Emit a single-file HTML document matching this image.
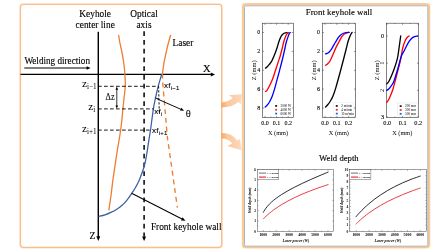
<!DOCTYPE html>
<html><head><meta charset="utf-8"><title>Keyhole model</title>
<style>
html,body{margin:0;padding:0;background:#fff;}
body{width:448px;height:252px;overflow:hidden;}
svg{display:block;}
text{font-family:"Liberation Serif","DejaVu Serif",serif;fill:#000;}
.ss{font-family:"Liberation Sans","DejaVu Sans",sans-serif;}
</style></head>
<body>
<svg width="448" height="252" viewBox="0 0 448 252">
<defs>
<filter id="glow" x="-5%" y="-5%" width="110%" height="110%"><feGaussianBlur stdDeviation="0.7"/></filter>
<linearGradient id="ag1" x1="0" y1="0" x2="1" y2="0"><stop offset="0" stop-color="#f8a766"/><stop offset="0.3" stop-color="#fbc79d"/><stop offset="1" stop-color="#fcd9bd"/></linearGradient>
</defs>
<rect width="448" height="252" fill="#fff"/>

<!-- LEFT PANEL -->
<rect x="20.5" y="4.5" width="201.1" height="242.9" rx="2.9" ry="2.9" fill="none" stroke="#fcdcc0" stroke-width="2.3" filter="url(#glow)"/>
<rect x="20.5" y="4.5" width="201.1" height="242.9" rx="2.9" ry="2.9" fill="#fff" stroke="#fbbd89" stroke-width="1.15"/>

<!-- RIGHT PANEL -->
<rect x="243" y="4.3" width="186.1" height="243.1" rx="2.6" ry="2.6" fill="none" stroke="#fdd3a4" stroke-width="2.4" filter="url(#glow)"/>
<rect x="243" y="4.3" width="186.1" height="243.1" rx="2.6" ry="2.6" fill="none" stroke="#fcc88f" stroke-width="1.4"/>
<rect x="244.5" y="5.8" width="183.3" height="240.4" rx="1.5" ry="1.5" fill="#fff" stroke="#9dabc0" stroke-width="0.9"/>

<!-- big arrows -->
<path d="M221.3,102.5 C225.5,102.5 229.8,100.8 232.9,98.1 L229,95.2 L242,94.2 L240.9,104.1 L238,102 C235,105.2 229,107.5 221.3,107.4 Z" fill="url(#ag1)"/>
<path d="M221.3,133.1 C229,133 234,136 237.2,140.6 L240,138.9 L241.6,150.3 L227.3,145.9 L232.2,143.4 C230,140 226,138.4 221.3,138.4 Z" fill="url(#ag1)"/>

<!-- LEFT DIAGRAM -->
<g id="diagram" fill="none" stroke-linecap="butt">
<!-- axes -->
<line x1="20.5" y1="74.4" x2="212" y2="74.4" stroke="#000" stroke-width="1.4"/>
<path d="M215.1,74.4 L210.8,72.4 L210.8,76.4 Z" fill="#000" stroke="none"/>
<line x1="98.3" y1="31.8" x2="98.3" y2="237.5" stroke="#000" stroke-width="1.45"/>
<path d="M98.3,241 L96.3,236.3 L100.3,236.3 Z" fill="#000" stroke="none"/>
<!-- optical axis -->
<line x1="144.1" y1="31.2" x2="144.1" y2="236.8" stroke="#000" stroke-width="1.5" stroke-dasharray="4.9 3.85"/>
<path d="M144.1,241 L142.1,236.6 L146.1,236.6 Z" fill="#000" stroke="none"/>
<!-- welding direction arrow -->
<line x1="24.3" y1="68" x2="88" y2="68" stroke="#000" stroke-width="1"/>
<path d="M90.6,68 L86.6,66.3 L86.6,69.7 Z" fill="#000" stroke="none"/>
<!-- laser left branch -->
<path d="M118.6,35 C118.85,36.5 119.55,41.17 120.1,44 C120.65,46.83 121.37,49.33 121.9,52 C122.43,54.67 122.9,57.42 123.3,60 C123.7,62.58 124.03,65.12 124.3,67.5 C124.57,69.88 124.73,71.55 124.9,74.3 C125.07,77.05 125.3,81.22 125.3,84 C125.3,86.78 125.1,88.75 124.9,91 C124.7,93.25 124.47,94.17 124.1,97.5 C123.73,100.83 123.18,106.25 122.7,111 C122.22,115.75 121.8,121.17 121.2,126 C120.6,130.83 119.82,135.5 119.1,140 C118.38,144.5 117.93,146.33 116.9,153 C115.87,159.67 113.85,173.17 112.9,180 C111.95,186.83 111.88,188.92 111.2,194 C110.52,199.08 109.2,207.75 108.8,210.5" stroke="#ed7d31" stroke-width="1.3"/>
<!-- laser right branch -->
<path d="M170.7,34.8 C170.25,36.42 168.85,41.17 168,44.5 C167.15,47.83 166.3,51.55 165.6,54.8 C164.9,58.05 164.3,61.03 163.8,64 C163.3,66.97 162.83,70.83 162.6,72.6 C162.37,74.37 162.43,74.27 162.4,74.6" stroke="#ed7d31" stroke-width="1.3"/>
<path d="M162.45,73.8 C162.47,74.67 162.51,76.97 162.6,79 C162.69,81.03 162.72,82.33 163,86 C163.28,89.67 163.92,96.5 164.3,101 C164.68,105.5 164.98,109.17 165.3,113 C165.62,116.83 165.88,119.83 166.25,124 C166.62,128.17 167.12,134.5 167.5,138 C167.88,141.5 167.92,140.92 168.5,145 C169.08,149.08 170.17,156.67 171,162.5 C171.83,168.33 172.77,174.83 173.5,180 C174.23,185.17 174.75,188.9 175.4,193.5 C176.05,198.1 177.07,205.25 177.4,207.6" stroke="#ed7d31" stroke-width="1.35" stroke-dasharray="4.9 3.95"/>
<!-- blue keyhole wall -->
<path d="M161.7,74.3 C161.5,74.97 161.08,76.28 160.5,78.3 C159.92,80.32 159.03,83.12 158.2,86.4 C157.37,89.68 156.3,94.25 155.5,98 C154.7,101.75 154.23,103.57 153.4,108.9 C152.57,114.23 151.25,124.82 150.5,130 C149.75,135.18 149.55,135.83 148.9,140 C148.25,144.17 147.4,150.53 146.6,155 C145.8,159.47 145.32,162.63 144.1,166.8 C142.88,170.97 140.68,176.63 139.3,180 C137.92,183.37 137.06,184.78 135.8,187 C134.54,189.22 133.25,191.08 131.75,193.3 C130.25,195.52 128.41,198.3 126.8,200.3 C125.19,202.3 123.77,203.82 122.1,205.3 C120.43,206.78 118.58,208.07 116.8,209.2 C115.02,210.33 113.37,211.17 111.4,212.1 C109.43,213.03 107.15,214.07 105,214.8 C102.85,215.53 99.58,216.22 98.5,216.5" stroke="#3a5fa5" stroke-width="1.25"/>
<!-- dashed horizontals -->
<line x1="98.5" y1="86.3" x2="158.3" y2="86.3" stroke="#000" stroke-width="0.9" stroke-dasharray="3.7 2.3" stroke-dashoffset="0.5"/>
<line x1="98.5" y1="108.9" x2="153.6" y2="108.9" stroke="#000" stroke-width="0.9" stroke-dasharray="3.7 2.3" stroke-dashoffset="0.5"/>
<line x1="98.5" y1="130.1" x2="150.4" y2="130.1" stroke="#000" stroke-width="0.9" stroke-dasharray="3.7 2.3" stroke-dashoffset="0.5"/>
<!-- delta z double arrow -->
<line x1="116.8" y1="88.5" x2="116.8" y2="106.5" stroke="#000" stroke-width="0.8"/>
<path d="M116.8,86.6 L115.5,89.8 L118.1,89.8 Z M116.8,108.6 L115.5,105.4 L118.1,105.4 Z" fill="#000" stroke="none"/>
<!-- small dashed vertical for theta -->
<line x1="158.6" y1="86.3" x2="159.3" y2="113" stroke="#000" stroke-width="0.95" stroke-dasharray="2.2 1.8"/>
<path d="M155.2,97.4 C156,98.6 157.6,99 158.9,98.2" stroke="#000" stroke-width="0.7"/>
<!-- theta arrow -->
<line x1="156.6" y1="98.6" x2="181.3" y2="109.5" stroke="#000" stroke-width="0.95"/>
<path d="M184.1,110.7 L180.1,110.6 L181.4,107.7 Z" fill="#000" stroke="none"/>
<!-- front keyhole wall arrow -->
<line x1="131.6" y1="193.2" x2="182.5" y2="219.3" stroke="#000" stroke-width="1.05"/>
<path d="M185.4,220.8 L181,220.4 L182.6,217.3 Z" fill="#000" stroke="none"/>
</g>

<g font-size="9.35" stroke="#000" stroke-width="0.12">
<text x="95.2" y="17.3" text-anchor="middle">Keyhole</text>
<text x="95.2" y="28.2" text-anchor="middle">center line</text>
<text x="144" y="17.3" text-anchor="middle">Optical</text>
<text x="144" y="28.2" text-anchor="middle">axis</text>
<text x="172.6" y="45.6">Laser</text>
<text x="24.4" y="63.7" textLength="65.6" lengthAdjust="spacingAndGlyphs">Welding direction</text>
<text x="202.9" y="72" font-size="10.4">X</text>
<text x="89.6" y="238.6" font-size="9.8">Z</text>
<text x="150.9" y="230.1">Front keyhole wall</text>
</g>
<g font-size="11.3">
<text x="82" y="86.8">z<tspan font-size="7.2" dy="1.9">i−1</tspan></text>
<text x="88.3" y="110.3">z<tspan font-size="7.2" dy="1.9">i</tspan></text>
<text x="82" y="132">z<tspan font-size="7.2" dy="1.9">i+1</tspan></text>
<text x="105.6" y="99.6" font-size="10.4" fill="#111" stroke="#111" stroke-width="0.1" textLength="9" lengthAdjust="spacingAndGlyphs">Δz</text>
</g>
<g class="ss" font-size="8.1" stroke="#000" stroke-width="0.1" letter-spacing="0.2">
<text class="ss" x="164" y="88">xf<tspan font-size="6" dy="1.6">i−1</tspan></text>
<text class="ss" x="154.3" y="114.3">xf<tspan font-size="6" dy="1.6">i</tspan></text>
<text class="ss" x="152" y="133.1">xf<tspan font-size="6" dy="1.6">i+1</tspan></text>
<text class="ss" x="185.7" y="116.6" font-size="9">θ</text>
</g>

<!-- RIGHT PANEL CONTENT -->
<text x="339" y="14.6" font-size="8.8" text-anchor="middle" stroke="#000" stroke-width="0.12">Front keyhole wall</text>
<text x="338.9" y="161.3" font-size="8.7" text-anchor="middle" stroke="#000" stroke-width="0.12">Weld depth</text>
<g id="plots">
<rect x="262.5" y="23.2" width="30.8" height="94.3" fill="#fff" stroke="#333" stroke-width="0.6"/>
<path d="M265,117.5 v-1.6 M265,23.2 v1.6 M270.8,117.5 v-0.9 M270.8,23.2 v0.9 M276.6,117.5 v-1.6 M276.6,23.2 v1.6 M282.4,117.5 v-0.9 M282.4,23.2 v0.9 M288.2,117.5 v-1.6 M288.2,23.2 v1.6 M262.5,32.5 h1.6 M293.3,32.5 h-1.6 M262.5,51.38 h1.6 M293.3,51.38 h-1.6 M262.5,70.26 h1.6 M293.3,70.26 h-1.6 M262.5,89.14 h1.6 M293.3,89.14 h-1.6 M262.5,108.02 h1.6 M293.3,108.02 h-1.6" stroke="#333" stroke-width="0.5" fill="none"/>
<text x="258.8" y="34.45" font-size="6.0" text-anchor="middle" stroke="#000" stroke-width="0.1">0</text>
<text x="258.8" y="53.33" font-size="6.0" text-anchor="middle" stroke="#000" stroke-width="0.1">2</text>
<text x="258.8" y="72.21" font-size="6.0" text-anchor="middle" stroke="#000" stroke-width="0.1">4</text>
<text x="258.8" y="91.09" font-size="6.0" text-anchor="middle" stroke="#000" stroke-width="0.1">6</text>
<text x="258.8" y="109.97" font-size="6.0" text-anchor="middle" stroke="#000" stroke-width="0.1">8</text>
<text x="265" y="124.6" font-size="6.0" text-anchor="middle" stroke="#000" stroke-width="0.1">0.0</text>
<text x="276.6" y="124.6" font-size="6.0" text-anchor="middle" stroke="#000" stroke-width="0.1">0.1</text>
<text x="288.2" y="124.6" font-size="6.0" text-anchor="middle" stroke="#000" stroke-width="0.1">0.2</text>
<text transform="translate(256,70.3) rotate(-90)" font-size="6.4" text-anchor="middle">Z (mm)</text>
<text x="278" y="134.5" font-size="6.3" text-anchor="middle">X (mm)</text>
<path d="M265.5,68.1 C265.8,67.88 266.63,67.45 267.3,66.8 C267.97,66.15 268.75,65.17 269.5,64.2 C270.25,63.23 271.05,62.37 271.8,61 C272.55,59.63 273.35,57.55 274,56 C274.65,54.45 275.2,53.03 275.7,51.7 C276.2,50.37 276.42,49.83 277,48 C277.58,46.17 278.47,42.73 279.2,40.7 C279.93,38.67 280.68,36.98 281.4,35.8 C282.12,34.62 282.85,34.1 283.5,33.6 C284.15,33.1 284.68,32.97 285.3,32.8 C285.92,32.63 286.88,32.63 287.2,32.6" fill="none" stroke="#000" stroke-width="1.32" stroke-linecap="round"/>
<path d="M265.5,91.4 C265.75,91.22 266.33,91.23 267,90.3 C267.67,89.37 268.58,87.65 269.5,85.8 C270.42,83.95 271.5,81.78 272.5,79.2 C273.5,76.62 274.52,73.27 275.5,70.3 C276.48,67.33 277.62,63.78 278.4,61.4 C279.18,59.02 279.55,58.23 280.2,56 C280.85,53.77 281.72,50.33 282.3,48 C282.88,45.67 283.1,44.03 283.7,42 C284.3,39.97 285.3,37.22 285.9,35.8 C286.5,34.38 286.78,34.03 287.3,33.5 C287.82,32.97 288.72,32.75 289,32.6" fill="none" stroke="#f00" stroke-width="1.32" stroke-linecap="round"/>
<path d="M265.2,107 C265.5,106.73 266.28,106.23 267,105.4 C267.72,104.57 268.62,103.57 269.5,102 C270.38,100.43 271.42,98.32 272.3,96 C273.18,93.68 273.98,90.9 274.8,88.1 C275.62,85.3 276.4,82.17 277.2,79.2 C278,76.23 278.72,73.67 279.6,70.3 C280.48,66.93 281.6,62.72 282.5,59 C283.4,55.28 284.37,50.83 285,48 C285.63,45.17 285.73,44.03 286.3,42 C286.87,39.97 287.88,37.23 288.4,35.8 C288.92,34.37 289.08,33.93 289.4,33.4 C289.72,32.87 290.15,32.73 290.3,32.6" fill="none" stroke="#00f" stroke-width="1.32" stroke-linecap="round"/>
<rect x="273" y="102.8" width="19" height="13.2" fill="#fff" stroke="#fff" stroke-width="0.3"/>
<rect x="275.2" y="105.05" width="1.9" height="1.7" fill="#111"/>
<text x="280.6" y="107" font-size="3.3" fill="#555">2000 W</text>
<rect x="275.2" y="108.9" width="1.9" height="1.7" fill="#e22"/>
<text x="280.6" y="110.85" font-size="3.3" fill="#555">4000 W</text>
<rect x="275.2" y="112.75" width="1.9" height="1.7" fill="#15e"/>
<text x="280.6" y="114.7" font-size="3.3" fill="#555">6000 W</text>
<rect x="322.3" y="23.2" width="33.3" height="94.3" fill="#fff" stroke="#333" stroke-width="0.6"/>
<path d="M325,117.5 v-1.6 M325,23.2 v1.6 M330.9,117.5 v-0.9 M330.9,23.2 v0.9 M336.8,117.5 v-1.6 M336.8,23.2 v1.6 M342.7,117.5 v-0.9 M342.7,23.2 v0.9 M348.6,117.5 v-1.6 M348.6,23.2 v1.6 M354.5,117.5 v-0.9 M354.5,23.2 v0.9 M322.3,32.5 h1.6 M355.6,32.5 h-1.6 M322.3,51.38 h1.6 M355.6,51.38 h-1.6 M322.3,70.26 h1.6 M355.6,70.26 h-1.6 M322.3,89.14 h1.6 M355.6,89.14 h-1.6 M322.3,108.02 h1.6 M355.6,108.02 h-1.6" stroke="#333" stroke-width="0.5" fill="none"/>
<text x="318.6" y="34.45" font-size="6.0" text-anchor="middle" stroke="#000" stroke-width="0.1">0</text>
<text x="318.6" y="53.33" font-size="6.0" text-anchor="middle" stroke="#000" stroke-width="0.1">2</text>
<text x="318.6" y="72.21" font-size="6.0" text-anchor="middle" stroke="#000" stroke-width="0.1">4</text>
<text x="318.6" y="91.09" font-size="6.0" text-anchor="middle" stroke="#000" stroke-width="0.1">6</text>
<text x="318.6" y="109.97" font-size="6.0" text-anchor="middle" stroke="#000" stroke-width="0.1">8</text>
<text x="325" y="124.6" font-size="6.0" text-anchor="middle" stroke="#000" stroke-width="0.1">0.0</text>
<text x="336.8" y="124.6" font-size="6.0" text-anchor="middle" stroke="#000" stroke-width="0.1">0.1</text>
<text x="348.6" y="124.6" font-size="6.0" text-anchor="middle" stroke="#000" stroke-width="0.1">0.2</text>
<text transform="translate(316,70.3) rotate(-90)" font-size="6.4" text-anchor="middle">Z (mm)</text>
<text x="338.9" y="134.5" font-size="6.3" text-anchor="middle">X (mm)</text>
<path d="M325.5,107 C325.83,106.67 326.68,106 327.5,105 C328.32,104 329.48,102.5 330.4,101 C331.32,99.5 332.12,98.15 333,96 C333.88,93.85 334.5,92.1 335.7,88.1 C336.9,84.1 338.86,76.93 340.2,72 C341.54,67.07 342.73,62.42 343.75,58.5 C344.77,54.58 345.56,51.42 346.3,48.5 C347.04,45.58 347.53,43.17 348.2,41 C348.87,38.83 349.65,36.93 350.3,35.5 C350.95,34.07 351.8,32.92 352.1,32.4" fill="none" stroke="#000" stroke-width="1.32" stroke-linecap="round"/>
<path d="M325.5,65.3 C325.83,65.08 326.75,64.72 327.5,64 C328.25,63.28 329.12,62.5 330,61 C330.88,59.5 331.85,57.15 332.8,55 C333.75,52.85 334.73,50.18 335.7,48.1 C336.67,46.02 337.65,44.28 338.6,42.5 C339.55,40.72 340.57,38.72 341.4,37.4 C342.23,36.08 342.92,35.28 343.6,34.6 C344.28,33.92 344.88,33.62 345.5,33.3 C346.12,32.98 346.7,32.85 347.3,32.7 C347.9,32.55 348.8,32.45 349.1,32.4" fill="none" stroke="#f00" stroke-width="1.32" stroke-linecap="round"/>
<path d="M325.5,53.9 C325.92,53.75 327.22,53.52 328,53 C328.78,52.48 329.52,51.62 330.2,50.8 C330.88,49.98 331.25,49.48 332.1,48.1 C332.95,46.72 334.25,44.28 335.3,42.5 C336.35,40.72 337.5,38.67 338.4,37.4 C339.3,36.13 339.95,35.55 340.7,34.9 C341.45,34.25 342.02,33.88 342.9,33.5 C343.78,33.12 344.97,32.78 346,32.6 C347.03,32.42 348.58,32.43 349.1,32.4" fill="none" stroke="#00f" stroke-width="1.32" stroke-linecap="round"/>
<rect x="333.6" y="102.8" width="20" height="13.2" fill="#fff" stroke="#ddd" stroke-width="0.3"/>
<rect x="335.8" y="105.05" width="1.9" height="1.7" fill="#111"/>
<text x="341.2" y="107" font-size="3.3" fill="#555">2 m/min</text>
<rect x="335.8" y="108.9" width="1.9" height="1.7" fill="#e22"/>
<text x="341.2" y="110.85" font-size="3.3" fill="#555">4 m/min</text>
<rect x="335.8" y="112.75" width="1.9" height="1.7" fill="#15e"/>
<text x="341.2" y="114.7" font-size="3.3" fill="#555">10 m/min</text>
<rect x="386.4" y="23.2" width="32.2" height="94.3" fill="#fff" stroke="#333" stroke-width="0.6"/>
<path d="M387,117.5 v-1.6 M387,23.2 v1.6 M394.75,117.5 v-0.9 M394.75,23.2 v0.9 M402.5,117.5 v-1.6 M402.5,23.2 v1.6 M410.25,117.5 v-0.9 M410.25,23.2 v0.9 M418,117.5 v-1.6 M418,23.2 v1.6 M386.4,36 h1.6 M418.6,36 h-1.6 M386.4,63.17 h1.6 M418.6,63.17 h-1.6 M386.4,90.34 h1.6 M418.6,90.34 h-1.6" stroke="#333" stroke-width="0.5" fill="none"/>
<text x="382.7" y="37.95" font-size="6.3" text-anchor="middle" stroke="#000" stroke-width="0.1">0</text>
<text transform="translate(384.1,63.17) rotate(-90)" font-size="6.3" text-anchor="middle">1</text>
<text transform="translate(384.1,90.34) rotate(-90)" font-size="6.3" text-anchor="middle">2</text>
<text x="382.7" y="119.46" font-size="6.3" text-anchor="middle" stroke="#000" stroke-width="0.1">3</text>
<text x="387.2" y="124.6" font-size="6.3" text-anchor="middle" stroke="#000" stroke-width="0.1">0.0</text>
<text x="402.7" y="124.6" font-size="6.3" text-anchor="middle" stroke="#000" stroke-width="0.1">0.1</text>
<text x="418.2" y="124.6" font-size="6.3" text-anchor="middle" stroke="#000" stroke-width="0.1">0.2</text>
<text transform="translate(379.2,70.3) rotate(-90)" font-size="6.4" text-anchor="middle">Z (mm)</text>
<text x="402.3" y="134.5" font-size="6.3" text-anchor="middle">X (mm)</text>
<path d="M386.8,83.7 C387.08,83.42 387.88,82.95 388.5,82 C389.12,81.05 389.75,79.67 390.5,78 C391.25,76.33 392.25,73.92 393,72 C393.75,70.08 394.4,68.27 395,66.5 C395.6,64.73 396.12,63.15 396.6,61.4 C397.08,59.65 397.45,58.57 397.9,56 C398.35,53.43 398.83,49.33 399.3,46 C399.77,42.67 400.47,37.67 400.7,36" fill="none" stroke="#000" stroke-width="1.32" stroke-linecap="round"/>
<path d="M386.8,102.25 C387.08,101.88 387.88,101.12 388.5,100 C389.12,98.88 389.75,97.33 390.5,95.5 C391.25,93.67 391.98,92.32 393,89 C394.02,85.68 395.4,80.2 396.6,75.6 C397.8,71 399.37,65 400.2,61.4 C401.03,57.8 401.15,56.36 401.6,54 C402.05,51.64 402.25,49.57 402.9,47.25 C403.55,44.93 404.77,41.76 405.5,40.1 C406.23,38.44 406.7,37.98 407.3,37.3 C407.9,36.62 408.8,36.22 409.1,36" fill="none" stroke="#f00" stroke-width="1.32" stroke-linecap="round"/>
<path d="M386.8,90.3 C387.17,90.05 388.22,89.6 389,88.8 C389.78,88 390.67,86.8 391.5,85.5 C392.33,84.2 392.85,84.13 394,81 C395.15,77.87 397.17,70.87 398.4,66.7 C399.63,62.53 400.37,58.78 401.4,56 C402.43,53.22 403.47,52.2 404.6,50 C405.73,47.8 407,44.75 408.2,42.8 C409.4,40.85 410.73,39.33 411.8,38.3 C412.87,37.27 413.65,36.98 414.6,36.6 C415.55,36.22 417.02,36.1 417.5,36" fill="none" stroke="#00f" stroke-width="1.32" stroke-linecap="round"/>
<rect x="397.5" y="103" width="20.5" height="13" fill="#fff" stroke="#ccc" stroke-width="0.3"/>
<rect x="399.7" y="105.25" width="1.9" height="1.7" fill="#111"/>
<text x="405.1" y="107.2" font-size="3.3" fill="#555">200 mm</text>
<rect x="399.7" y="109.1" width="1.9" height="1.7" fill="#e22"/>
<text x="405.1" y="111.05" font-size="3.3" fill="#555">300 mm</text>
<rect x="399.7" y="112.95" width="1.9" height="1.7" fill="#15e"/>
<text x="405.1" y="114.9" font-size="3.3" fill="#555">500 mm</text>
<rect x="257.6" y="169.5" width="75.9" height="61.8" fill="#fff" stroke="#444" stroke-width="0.5"/>
<text x="263.3" y="235.9" font-size="3.9" text-anchor="middle" font-weight="bold" fill="#333">1000</text>
<text x="276.23" y="235.9" font-size="3.9" text-anchor="middle" font-weight="bold" fill="#333">2000</text>
<text x="289.16" y="235.9" font-size="3.9" text-anchor="middle" font-weight="bold" fill="#333">3000</text>
<text x="302.09" y="235.9" font-size="3.9" text-anchor="middle" font-weight="bold" fill="#333">4000</text>
<text x="315.02" y="235.9" font-size="3.9" text-anchor="middle" font-weight="bold" fill="#333">5000</text>
<text x="327.95" y="235.9" font-size="3.9" text-anchor="middle" font-weight="bold" fill="#333">6000</text>
<text x="256.1" y="232.5" font-size="3.6" text-anchor="end" font-weight="bold" fill="#333">0</text>
<text x="256.1" y="222.2" font-size="3.6" text-anchor="end" font-weight="bold" fill="#333">1</text>
<text x="256.1" y="211.9" font-size="3.6" text-anchor="end" font-weight="bold" fill="#333">2</text>
<text x="256.1" y="201.6" font-size="3.6" text-anchor="end" font-weight="bold" fill="#333">3</text>
<text x="256.1" y="191.3" font-size="3.6" text-anchor="end" font-weight="bold" fill="#333">4</text>
<text x="256.1" y="181" font-size="3.6" text-anchor="end" font-weight="bold" fill="#333">5</text>
<text x="256.1" y="170.7" font-size="3.6" text-anchor="end" font-weight="bold" fill="#333">6</text>
<path d="M263.3,231.3 v-1.3 M263.3,169.5 v1.3 M276.23,231.3 v-1.3 M276.23,169.5 v1.3 M289.16,231.3 v-1.3 M289.16,169.5 v1.3 M302.09,231.3 v-1.3 M302.09,169.5 v1.3 M315.02,231.3 v-1.3 M315.02,169.5 v1.3 M327.95,231.3 v-1.3 M327.95,169.5 v1.3 M269.76,231.3 v-0.7 M269.76,169.5 v0.7 M282.69,231.3 v-0.7 M282.69,169.5 v0.7 M295.62,231.3 v-0.7 M295.62,169.5 v0.7 M308.56,231.3 v-0.7 M308.56,169.5 v0.7 M321.49,231.3 v-0.7 M321.49,169.5 v0.7 M257.6,221 h1.3 M333.5,221 h-1.3 M257.6,210.7 h1.3 M333.5,210.7 h-1.3 M257.6,200.4 h1.3 M333.5,200.4 h-1.3 M257.6,190.1 h1.3 M333.5,190.1 h-1.3 M257.6,179.8 h1.3 M333.5,179.8 h-1.3 M257.6,226.15 h0.7 M333.5,226.15 h-0.7 M257.6,215.85 h0.7 M333.5,215.85 h-0.7 M257.6,205.55 h0.7 M333.5,205.55 h-0.7 M257.6,195.25 h0.7 M333.5,195.25 h-0.7 M257.6,184.95 h0.7 M333.5,184.95 h-0.7 M257.6,174.65 h0.7 M333.5,174.65 h-0.7" stroke="#444" stroke-width="0.4" fill="none"/>
<text x="295.8" y="242" font-size="3.9" text-anchor="middle" font-weight="bold" font-style="italic" fill="#333">Laser power (W)</text>
<text transform="translate(251.3,200.4) rotate(-90)" font-size="3.7" text-anchor="middle" font-weight="bold" font-style="italic" fill="#333">Weld depth (mm)</text>
<path d="M263.3,212.35 C263.53,211.95 263.99,210.98 264.7,209.95 C265.4,208.91 266.42,207.44 267.54,206.15 C268.65,204.85 269.97,203.49 271.4,202.19 C272.84,200.88 274.43,199.58 276.14,198.31 C277.85,197.03 279.7,195.77 281.65,194.52 C283.61,193.27 285.69,192.03 287.87,190.8 C290.05,189.56 292.35,188.34 294.74,187.11 C297.14,185.87 299.64,184.65 302.23,183.41 C304.82,182.18 307.52,180.94 310.3,179.69 C313.09,178.45 315.97,177.2 318.93,175.94 C321.9,174.68 326.57,172.77 328.1,172.13" fill="none" stroke="#222" stroke-width="0.95" stroke-linecap="round"/>
<path d="M263.3,218.86 C263.53,218.63 263.99,218.14 264.7,217.48 C265.4,216.81 266.42,215.83 267.54,214.86 C268.65,213.89 269.97,212.76 271.4,211.65 C272.84,210.54 274.43,209.35 276.14,208.17 C277.85,206.99 279.7,205.79 281.65,204.6 C283.61,203.41 285.69,202.21 287.87,201.04 C290.05,199.86 292.35,198.69 294.74,197.54 C297.14,196.39 299.64,195.26 302.23,194.14 C304.82,193.03 307.52,191.93 310.3,190.86 C313.09,189.78 315.97,188.72 318.93,187.68 C321.9,186.63 326.57,185.12 328.1,184.6" fill="none" stroke="#e8333a" stroke-width="0.95" stroke-linecap="round"/>
<rect x="257.2" y="169.6" width="21.6" height="9.8" fill="#fff" stroke="#333" stroke-width="0.4"/>
<line x1="258.9" y1="173.1" x2="266" y2="173.1" stroke="#333" stroke-width="0.7"/>
<text x="266.8" y="174" font-size="2.25" font-weight="bold" fill="#222">v = 2 m/min</text>
<line x1="258.9" y1="177.1" x2="266" y2="177.1" stroke="#e8333a" stroke-width="1.2"/>
<text x="266.8" y="178" font-size="2.25" font-weight="bold" fill="#222">v = 4 m/min</text>
<rect x="349.7" y="169.5" width="76.8" height="61.8" fill="#fff" stroke="#444" stroke-width="0.5"/>
<text x="356.3" y="235.9" font-size="3.9" text-anchor="middle" font-weight="bold" fill="#333">1000</text>
<text x="369.1" y="235.9" font-size="3.9" text-anchor="middle" font-weight="bold" fill="#333">2000</text>
<text x="381.9" y="235.9" font-size="3.9" text-anchor="middle" font-weight="bold" fill="#333">3000</text>
<text x="394.7" y="235.9" font-size="3.9" text-anchor="middle" font-weight="bold" fill="#333">4000</text>
<text x="407.5" y="235.9" font-size="3.9" text-anchor="middle" font-weight="bold" fill="#333">5000</text>
<text x="420.3" y="235.9" font-size="3.9" text-anchor="middle" font-weight="bold" fill="#333">6000</text>
<text x="348.2" y="232.5" font-size="3.6" text-anchor="end" font-weight="bold" fill="#333">0</text>
<text x="348.2" y="226.32" font-size="3.6" text-anchor="end" font-weight="bold" fill="#333">1</text>
<text x="348.2" y="220.14" font-size="3.6" text-anchor="end" font-weight="bold" fill="#333">2</text>
<text x="348.2" y="213.96" font-size="3.6" text-anchor="end" font-weight="bold" fill="#333">3</text>
<text x="348.2" y="207.78" font-size="3.6" text-anchor="end" font-weight="bold" fill="#333">4</text>
<text x="348.2" y="201.6" font-size="3.6" text-anchor="end" font-weight="bold" fill="#333">5</text>
<text x="348.2" y="195.42" font-size="3.6" text-anchor="end" font-weight="bold" fill="#333">6</text>
<text x="348.2" y="189.24" font-size="3.6" text-anchor="end" font-weight="bold" fill="#333">7</text>
<text x="348.2" y="183.06" font-size="3.6" text-anchor="end" font-weight="bold" fill="#333">8</text>
<text x="348.2" y="176.88" font-size="3.6" text-anchor="end" font-weight="bold" fill="#333">9</text>
<text x="348.2" y="170.7" font-size="3.6" text-anchor="end" font-weight="bold" fill="#333">10</text>
<path d="M356.3,231.3 v-1.3 M356.3,169.5 v1.3 M369.1,231.3 v-1.3 M369.1,169.5 v1.3 M381.9,231.3 v-1.3 M381.9,169.5 v1.3 M394.7,231.3 v-1.3 M394.7,169.5 v1.3 M407.5,231.3 v-1.3 M407.5,169.5 v1.3 M420.3,231.3 v-1.3 M420.3,169.5 v1.3 M349.9,231.3 v-0.7 M349.9,169.5 v0.7 M362.7,231.3 v-0.7 M362.7,169.5 v0.7 M375.5,231.3 v-0.7 M375.5,169.5 v0.7 M388.3,231.3 v-0.7 M388.3,169.5 v0.7 M401.1,231.3 v-0.7 M401.1,169.5 v0.7 M413.9,231.3 v-0.7 M413.9,169.5 v0.7 M349.7,225.12 h1.3 M426.5,225.12 h-1.3 M349.7,218.94 h1.3 M426.5,218.94 h-1.3 M349.7,212.76 h1.3 M426.5,212.76 h-1.3 M349.7,206.58 h1.3 M426.5,206.58 h-1.3 M349.7,200.4 h1.3 M426.5,200.4 h-1.3 M349.7,194.22 h1.3 M426.5,194.22 h-1.3 M349.7,188.04 h1.3 M426.5,188.04 h-1.3 M349.7,181.86 h1.3 M426.5,181.86 h-1.3 M349.7,175.68 h1.3 M426.5,175.68 h-1.3 M349.7,228.21 h0.7 M426.5,228.21 h-0.7 M349.7,222.03 h0.7 M426.5,222.03 h-0.7 M349.7,215.85 h0.7 M426.5,215.85 h-0.7 M349.7,209.67 h0.7 M426.5,209.67 h-0.7 M349.7,203.49 h0.7 M426.5,203.49 h-0.7 M349.7,197.31 h0.7 M426.5,197.31 h-0.7 M349.7,191.13 h0.7 M426.5,191.13 h-0.7 M349.7,184.95 h0.7 M426.5,184.95 h-0.7 M349.7,178.77 h0.7 M426.5,178.77 h-0.7 M349.7,172.59 h0.7 M426.5,172.59 h-0.7" stroke="#444" stroke-width="0.4" fill="none"/>
<text x="387.8" y="242" font-size="3.9" text-anchor="middle" font-weight="bold" font-style="italic" fill="#333">Laser power (W)</text>
<text transform="translate(343.4,200.4) rotate(-90)" font-size="3.7" text-anchor="middle" font-weight="bold" font-style="italic" fill="#333">Weld depth (mm)</text>
<path d="M356,216.75 C356.23,216.48 356.69,215.93 357.39,215.14 C358.09,214.36 359.09,213.21 360.2,212.05 C361.31,210.89 362.61,209.54 364.04,208.18 C365.46,206.82 367.04,205.35 368.73,203.9 C370.43,202.45 372.26,200.94 374.2,199.46 C376.13,197.99 378.2,196.49 380.36,195.04 C382.52,193.59 384.8,192.15 387.17,190.75 C389.55,189.36 392.03,187.99 394.6,186.67 C397.17,185.35 399.84,184.07 402.61,182.85 C405.37,181.62 408.22,180.44 411.16,179.31 C414.1,178.19 418.74,176.62 420.25,176.08" fill="none" stroke="#222" stroke-width="0.95" stroke-linecap="round"/>
<path d="M356,224.08 C356.23,223.85 356.69,223.36 357.39,222.69 C358.09,222.02 359.09,221.03 360.2,220.04 C361.31,219.04 362.61,217.89 364.04,216.74 C365.46,215.58 367.04,214.34 368.73,213.1 C370.43,211.87 372.26,210.59 374.2,209.33 C376.13,208.07 378.2,206.79 380.36,205.54 C382.52,204.28 384.8,203.03 387.17,201.8 C389.55,200.57 392.03,199.36 394.6,198.17 C397.17,196.98 399.84,195.81 402.61,194.66 C405.37,193.51 408.22,192.39 411.16,191.29 C414.1,190.18 418.74,188.59 420.25,188.05" fill="none" stroke="#e8333a" stroke-width="0.95" stroke-linecap="round"/>
<rect x="349.3" y="169.6" width="21.6" height="9.8" fill="#fff" stroke="#333" stroke-width="0.4"/>
<line x1="351" y1="173.1" x2="358.1" y2="173.1" stroke="#333" stroke-width="0.7"/>
<text x="358.9" y="174" font-size="2.25" font-weight="bold" fill="#222">v = 2 m/min</text>
<line x1="351" y1="177.1" x2="358.1" y2="177.1" stroke="#e8333a" stroke-width="1.2"/>
<text x="358.9" y="178" font-size="2.25" font-weight="bold" fill="#222">v = 4 m/min</text>
</g>
</svg>
</body></html>
